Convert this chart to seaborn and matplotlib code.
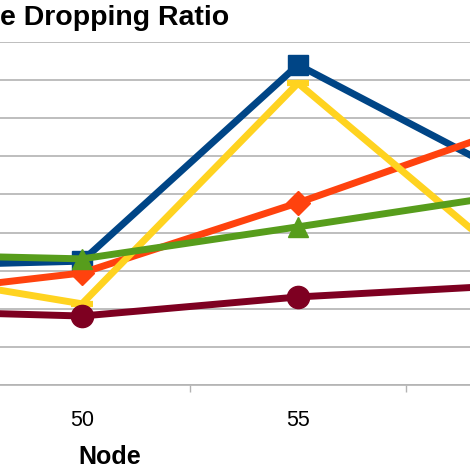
import matplotlib
matplotlib.use("Agg")
import matplotlib.pyplot as plt
import seaborn as sns
import pandas as pd
from matplotlib.ticker import MultipleLocator, FixedLocator

# ---- data ----
nodes = [45, 50, 55, 60]
visible_tick_labels = ["", "50", "55", ""]
series_names = ["Series A", "Series B", "Series C", "Series D", "Series E"]
blue_vals = [0.310, 0.325, 0.840, 0.543]
orange_vals = [0.228, 0.294, 0.478, 0.677]
yellow_vals = [0.307, 0.213, 0.792, 0.315]
green_vals = [0.344, 0.331, 0.415, 0.501]
maroon_vals = [0.197, 0.181, 0.231, 0.262]
colors = ["#004586", "#ff420e", "#ffd320", "#579d1c", "#7e0021"]
markers = ["s", "D", "_", "^", "o"]
marker_sizes = [14, 12, 16, 15, 16]
title_text = "e Dropping Ratio"
xlabel_text = "Node"

values = [blue_vals, orange_vals, yellow_vals, green_vals, maroon_vals]
rows = []
for name, vals in zip(series_names, values):
    for i, (n, v) in enumerate(zip(nodes, vals)):
        rows.append({"pos": i, "node": n, "value": v, "series": name})
df = pd.DataFrame(rows)

sns.set_theme(style="white")
plt.rcParams["font.family"] = ["Liberation Sans", "DejaVu Sans"]
plt.rcParams["text.color"] = "black"
plt.rcParams["axes.labelcolor"] = "black"

fig = plt.figure(figsize=(4.7, 4.7), dpi=100)
W = H = 470.0
# axes extend beyond the canvas (the reference is a crop of a larger chart)
x_left_px, x_right_px = -242.0, 622.0
y_bottom_px, y_top_px = 385.0, 42.0
ax = fig.add_axes([x_left_px / W, (H - y_bottom_px) / H,
                   (x_right_px - x_left_px) / W, (y_bottom_px - y_top_px) / H])

for name, col, mk, ms in zip(series_names, colors, markers, marker_sizes):
    sub = df[df["series"] == name]
    mew = 4.5 if mk == "_" else 1
    sns.lineplot(data=sub, x="pos", y="value", ax=ax, color=col, linewidth=5,
                 marker=mk, markersize=ms, markeredgecolor=col, markerfacecolor=col,
                 markeredgewidth=mew, legend=False, zorder=3)

ax.set_xlim(-0.5, len(nodes) - 0.5)
ax.set_ylim(0, 0.9)
ax.yaxis.set_major_locator(MultipleLocator(0.1))
ax.grid(axis="y", color="#b3b3b3", linewidth=1.2)
ax.grid(axis="x", visible=False)
ax.set_yticklabels([])
ax.tick_params(axis="y", length=0)

ax.set_xticks(range(len(nodes)))
ax.set_xticklabels(visible_tick_labels, fontsize=15.5)
ax.xaxis.set_minor_locator(FixedLocator([i + 0.5 for i in range(-1, len(nodes))]))
ax.tick_params(axis="x", which="major", length=0, pad=18, colors="black")
ax.tick_params(axis="x", which="minor", length=5, width=1, color="#b3b3b3", bottom=True)

for s in ["top", "left", "right"]:
    ax.spines[s].set_visible(False)
ax.spines["bottom"].set_color("#b3b3b3")
ax.spines["bottom"].set_linewidth(1.2)

ax.set_xlabel(xlabel_text, fontsize=18, fontweight="bold", color="black")
ax.set_ylabel("")
# centre of "Node" at x ~ 110 px, y ~ 457 px
ax.xaxis.set_label_coords((110 - x_left_px) / (x_right_px - x_left_px),
                          -(457 - y_bottom_px) / (y_bottom_px - y_top_px))
ax.xaxis.label.set_va("center")

fig.text(0.0, (H - 25) / H, title_text, fontsize=20.5, fontweight="bold",
         ha="left", va="baseline", color="black")

fig.savefig("out.png", dpi=100)
